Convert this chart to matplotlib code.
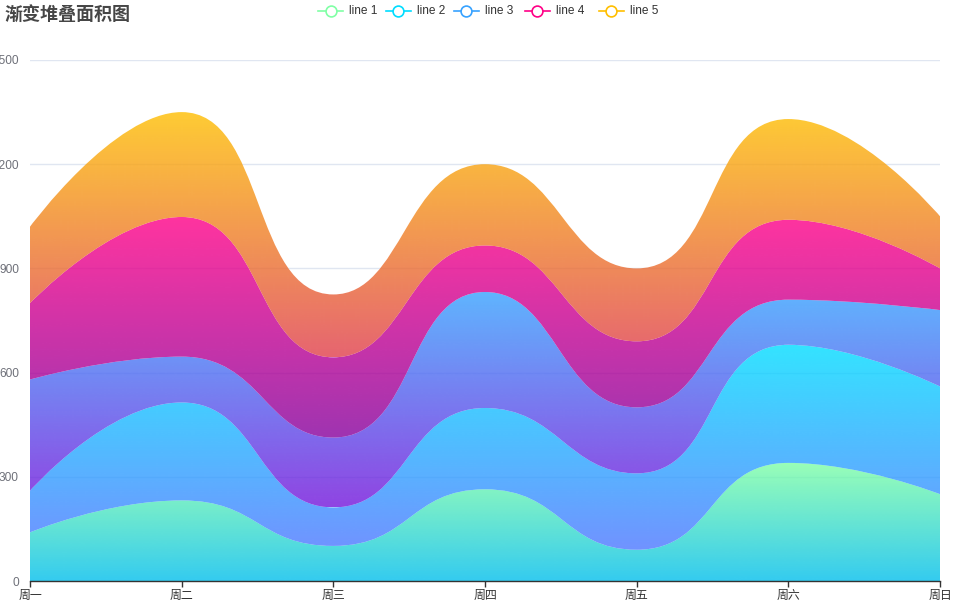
import math
import numpy as np
import matplotlib
matplotlib.use("Agg")
import matplotlib.pyplot as plt
from matplotlib.path import Path
from matplotlib.patches import PathPatch
from matplotlib.lines import Line2D

plt.rcParams['font.family'] = ['Noto Sans CJK SC', 'DejaVu Sans']

title = "渐变堆叠面积图"
categories = ['周一', '周二', '周三', '周四', '周五', '周六', '周日']
series_names = ['line 1', 'line 2', 'line 3', 'line 4', 'line 5']
line1 = [140, 232, 101, 264, 90, 340, 250]
line2 = [120, 282, 111, 234, 220, 340, 310]
line3 = [320, 132, 201, 334, 190, 130, 220]
line4 = [220, 402, 231, 134, 190, 230, 120]
line5 = [220, 302, 181, 234, 210, 290, 150]
series_values = [line1, line2, line3, line4, line5]
legend_colors = ['#80FFA5', '#00DDFF', '#37A2FF', '#FF0087', '#FFBF00']
grad_top = [(128, 255, 165), (0, 221, 255), (55, 162, 255), (255, 0, 135), (255, 191, 0)]
grad_bot = [(1, 191, 236), (77, 119, 255), (116, 21, 219), (135, 0, 157), (224, 62, 76)]
y_ticks = [0, 300, 600, 900, 1200, 1500]

W, H = 980, 600
L, R, T, B = 30, 940, 60, 581
fig = plt.figure(figsize=(W / 100, H / 100), dpi=100)
ax = fig.add_axes([L / W, 1 - B / H, (R - L) / W, (B - T) / H])
n = len(categories)
ax.set_xlim(0, n - 1)
ax.set_ylim(0, 1500)

sx = (R - L) / (n - 1)
sy = (B - T) / 1500.0


def echarts_smooth(pts, smooth=0.5):
    """pts in pixel space; returns list of (cp0, cp1, p) bezier segments"""
    segs = []
    prevX, prevY = pts[0]
    cpx0, cpy0 = pts[0]
    m = len(pts)
    for k in range(1, m):
        x, y = pts[k]
        if k + 1 >= m:
            cpx1, cpy1 = x, y
            ncx, ncy = x, y
        else:
            nextX, nextY = pts[k + 1]
            vx = nextX - prevX
            vy = nextY - prevY
            dx0 = x - prevX; dx1 = nextX - x
            dy0 = y - prevY; dy1 = nextY - y
            lp = math.sqrt(dx0 * dx0 + dy0 * dy0)
            ln = math.sqrt(dx1 * dx1 + dy1 * dy1)
            r = ln / (ln + lp)
            ncx = x + vx * smooth * r
            ncy = y + vy * smooth * r
            ncx = min(ncx, max(nextX, x)); ncy = min(ncy, max(nextY, y))
            ncx = max(ncx, min(nextX, x)); ncy = max(ncy, min(nextY, y))
            vx = ncx - x; vy = ncy - y
            cpx1 = x - vx * lp / ln
            cpy1 = y - vy * lp / ln
            cpx1 = min(cpx1, max(prevX, x)); cpy1 = min(cpy1, max(prevY, y))
            cpx1 = max(cpx1, min(prevX, x)); cpy1 = max(cpy1, min(prevY, y))
            vx = x - cpx1; vy = y - cpy1
            ncx = x + vx * ln / lp
            ncy = y + vy * ln / lp
        segs.append(((cpx0, cpy0), (cpx1, cpy1), (x, y)))
        cpx0, cpy0 = ncx, ncy
        prevX, prevY = x, y
    return segs


def to_px(vals):
    return [(i * sx, v * sy) for i, v in enumerate(vals)]


def to_data(p):
    return (p[0] / sx, p[1] / sy)


cum = np.zeros(n)
for si, vals in enumerate(series_values):
    lower = cum.copy()
    upper = cum + np.array(vals)
    verts, codes = [], []
    up_px = to_px(upper)
    verts.append(to_data(up_px[0])); codes.append(Path.MOVETO)
    for c0, c1, p in echarts_smooth(up_px):
        verts += [to_data(c0), to_data(c1), to_data(p)]
        codes += [Path.CURVE4] * 3
    lo_px = to_px(lower)[::-1]
    verts.append(to_data(lo_px[0])); codes.append(Path.LINETO)
    for c0, c1, p in echarts_smooth(lo_px):
        verts += [to_data(c0), to_data(c1), to_data(p)]
        codes += [Path.CURVE4] * 3
    verts.append(verts[0]); codes.append(Path.CLOSEPOLY)
    path = Path(verts, codes)
    patch = PathPatch(path, facecolor='none', edgecolor='none')
    ax.add_patch(patch)
    ymin, ymax = lower.min(), upper.max()
    t = np.linspace(0, 1, 256)[:, None]
    top = np.array(grad_top[si]) / 255.0
    bot = np.array(grad_bot[si]) / 255.0
    rgb = top[None, :] * (1 - t) + bot[None, :] * t
    img = np.ones((256, 2, 4))
    img[:, :, :3] = rgb[:, None, :]
    img[:, :, 3] = 0.8
    im = ax.imshow(img, extent=[0, n - 1, ymin, ymax], origin='upper',
                   aspect='auto', interpolation='bilinear', zorder=2)
    im.set_clip_path(patch)
    cum = upper

ax.set_xlim(0, n - 1)
ax.set_ylim(0, 1500)
ax.set_yticks(y_ticks)
ax.set_yticklabels([str(v) for v in y_ticks], family=['Liberation Sans'])
ax.set_xticks(range(n))
ax.set_xticklabels([])
ax.grid(axis='y', color='#E0E6F1', linewidth=1, zorder=0)
ax.set_axisbelow(True)
for s in ['top', 'right', 'left']:
    ax.spines[s].set_visible(False)
ax.spines['bottom'].set_color('#333333')
ax.spines['bottom'].set_linewidth(1)
ax.spines['bottom'].set_zorder(5)
ax.tick_params(axis='y', length=0, pad=8, labelsize=8.6, labelcolor='#6E7079')
ax.tick_params(axis='x', length=4, width=1, color='#333333')

for i, c in enumerate(categories):
    ax.annotate(c, xy=(i, 0), xycoords='data', xytext=(0, -14),
                textcoords='offset pixels', ha='center', va='center',
                fontsize=8.6, color='#333333', annotation_clip=False)

fig.text(5 / W, 1 - 14 / H, title, fontsize=13, fontweight='bold',
         color='#464646', ha='left', va='center')

icon_x = [330.5, 398, 466, 537, 611]
ly = 1 - 11 / H
for i, name in enumerate(series_names):
    cx = icon_x[i]
    fig.add_artist(Line2D([(cx - 12.5) / W, (cx + 12.5) / W], [ly, ly],
                          transform=fig.transFigure, color=legend_colors[i], lw=1.2))
    fig.add_artist(Line2D([cx / W], [ly], transform=fig.transFigure, marker='o',
                          markersize=7.8, markerfacecolor='white',
                          markeredgecolor=legend_colors[i], markeredgewidth=1.2,
                          linestyle='none'))
    fig.text((cx + 18.5) / W, ly, name, fontsize=8.6, color='#333333',
             ha='left', va='center', family=['Liberation Sans'])

fig.savefig('out.png', dpi=100)
